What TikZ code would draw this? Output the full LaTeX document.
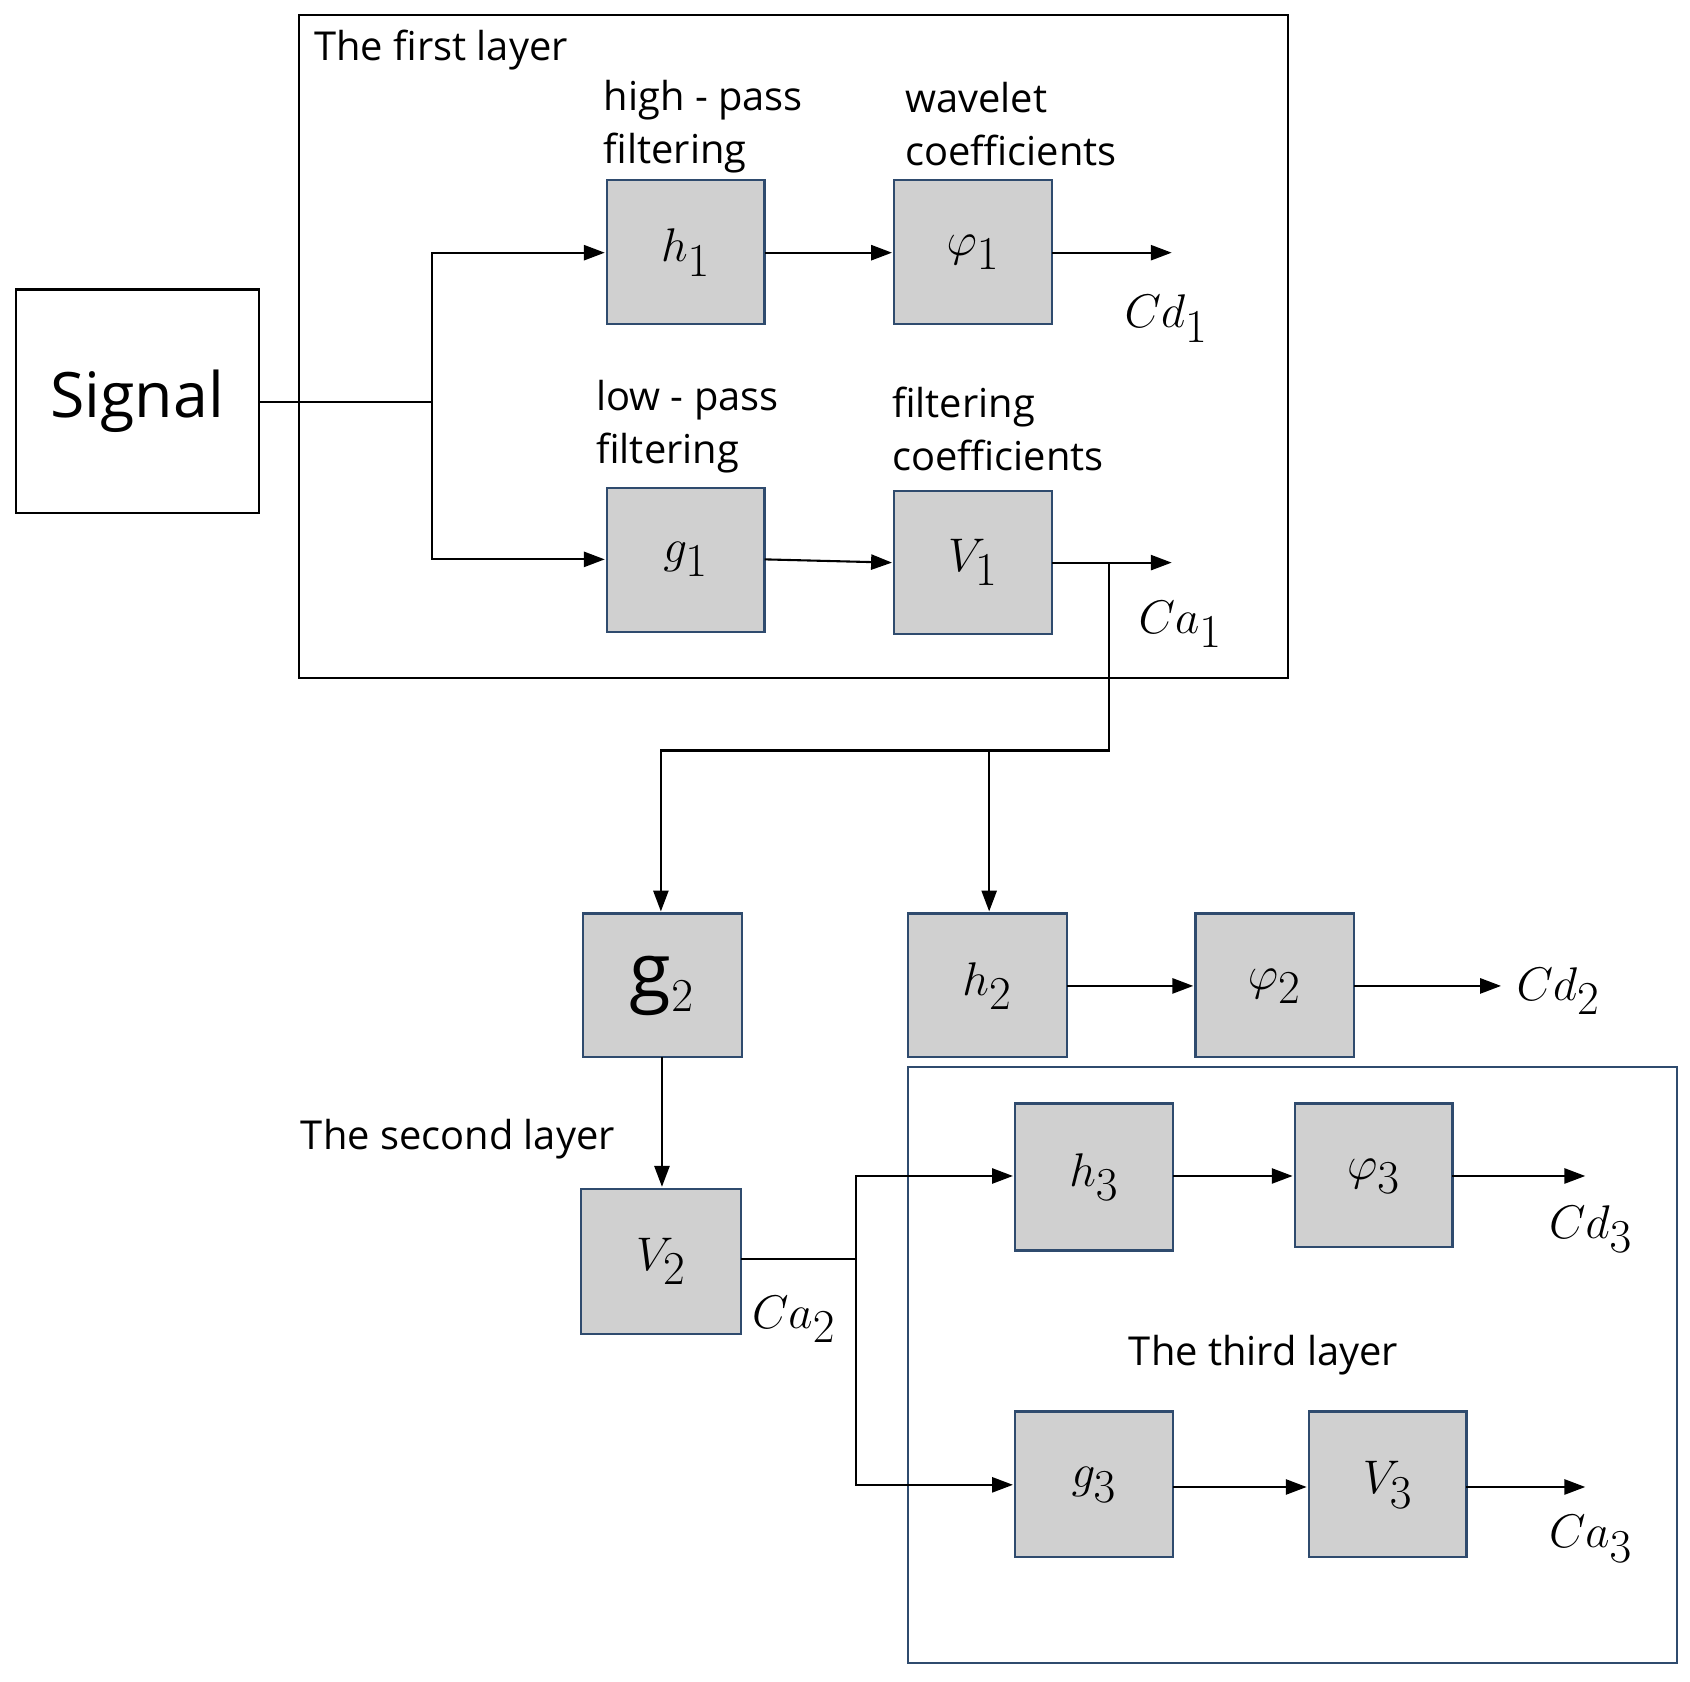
\documentclass[tikz,border=0pt]{standalone}
\usepackage{fontspec}
\setmainfont{Open Sans}
\usetikzlibrary{arrows.meta}
\definecolor{boxfill}{HTML}{D0D0D0}
\definecolor{boxline}{HTML}{2F4B6E}
\begin{document}
\begin{tikzpicture}[x=0.02cm,y=-0.02cm,
    blk/.style={draw=boxline, line width=1.2pt, fill=boxfill},
    arr/.style={-{Triangle[length=11pt,width=8pt]}, line width=1.1pt},
    ln/.style={line width=1.1pt},
    lbl/.style={font=\fontsize{21}{26}\selectfont, anchor=west, align=left},
    sym/.style={font=\fontsize{40}{40}\selectfont},
    outlbl/.style={font=\fontsize{38}{38}\selectfont}]
\useasboundingbox (0,0) rectangle (1565,1557);
% frames
\draw[line width=1.2pt] (277,14) rectangle (1193,628);
\draw[draw=boxline, line width=1.2pt] (841,988) rectangle (1553,1540);
% signal
\draw[line width=1.2pt] (15,268) rectangle (240,475);
\node (sig) at (127,372) {\fontsize{33}{33}\selectfont Signal};
% blocks
\draw[blk] (562,167) rectangle (708,300); \node[sym] (h1) at (635,234) {$h_1$};
\draw[blk] (828,167) rectangle (974,300); \node[sym] (p1) at (901,234) {$\varphi_1$};
\draw[blk] (562,452) rectangle (708,585); \node[sym] (g1) at (635,518) {$g_1$};
\draw[blk] (828,455) rectangle (974,587); \node[sym] (v1) at (901,521) {$V_1$};
\draw[blk] (540,846) rectangle (687,979); \node[sym] (g2) at (613,913) {g$_2$};
\draw[blk] (841,846) rectangle (988,979); \node[sym] (h2) at (914,913) {$h_2$};
\draw[blk] (1107,846) rectangle (1254,979); \node[sym] (p2) at (1180,913) {$\varphi_2$};
\draw[blk] (538,1101) rectangle (686,1235); \node[sym] (v2) at (612,1168) {$V_2$};
\draw[blk] (940,1022) rectangle (1086,1158); \node[sym] (h3) at (1013,1090) {$h_3$};
\draw[blk] (1199,1022) rectangle (1345,1155); \node[sym] (p3) at (1272,1089) {$\varphi_3$};
\draw[blk] (940,1307) rectangle (1086,1442); \node[sym] (g3) at (1013,1375) {$g_3$};
\draw[blk] (1212,1307) rectangle (1358,1442); \node[sym] (v3) at (1285,1375) {$V_3$};
% labels
\node[lbl] at (285,46) {The first layer};
\node[lbl, font=\fontsize{21}{28}\selectfont] at (553,117) {high - pass\\filtering};
\node[lbl, font=\fontsize{21}{28}\selectfont] at (832,115) {wavelet\\coefficients};
\node[lbl, font=\fontsize{21}{28}\selectfont] at (546,395) {low - pass\\filtering};
\node[lbl, font=\fontsize{21}{28}\selectfont] at (820,397) {filtering\\coefficients};
\node[font=\fontsize{21}{26}\selectfont] at (424,1055) {The second layer};
\node[font=\fontsize{21}{26}\selectfont] at (1170,1255) {The third layer};
\node[outlbl] at (1080,295) {$Cd_1$};
\node[outlbl] at (1093,578) {$Ca_1$};
\node[outlbl] at (1443,918) {$Cd_2$};
\node[outlbl] at (735,1222) {$Ca_2$};
\node[outlbl] at (1473,1138) {$Cd_3$};
\node[outlbl] at (1473,1425) {$Ca_3$};
% coordinates
\coordinate (j1) at (400,372);
\coordinate (e1) at (1085,234);
\coordinate (e2) at (1085,521);
\coordinate (e3) at (1390,913);
\coordinate (e4) at (1468,1089);
\coordinate (e5) at (1468,1377);
\coordinate (b1) at (1027,521);
\coordinate (b2) at (916,695);
\coordinate (j2) at (793,1166);
% connectors
\draw[ln] (240,372) -- (j1);
\draw[arr] (j1) |- (560,234);
\draw[arr] (j1) |- (560,518);
\draw[arr] (708,234) -- (826,234);
\draw[arr] (974,234) -- (e1);
\draw[arr] (708,518) -- (826,521);
\draw[arr] (974,521) -- (e2);
\draw[ln] (b1) |- (b2);
\draw[arr] (b2) -| (612,844);
\draw[arr] (b2) -- (916,844);
\draw[arr] (613,979) -- (613,1099);
\draw[arr] (988,913) -- (1105,913);
\draw[arr] (1254,913) -- (e3);
\draw[ln] (686,1166) -- (j2);
\draw[arr] (j2) |- (938,1089);
\draw[arr] (j2) |- (938,1375);
\draw[arr] (1086,1089) -- (1197,1089);
\draw[arr] (1345,1089) -- (e4);
\draw[arr] (1086,1377) -- (1210,1377);
\draw[arr] (1358,1377) -- (e5);
\end{tikzpicture}
\end{document}
